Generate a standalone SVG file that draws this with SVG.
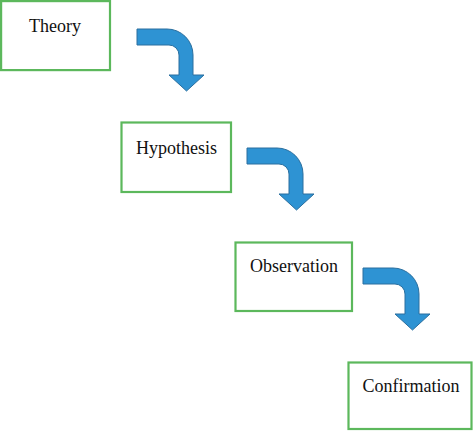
<svg xmlns="http://www.w3.org/2000/svg" width="474" height="432" viewBox="0 0 474 432">
<style>
.box{fill:#ffffff;stroke:#5cb85c;stroke-width:2.2}
.lbl{font-family:"Liberation Serif","Times New Roman",serif;font-size:18px;fill:#111;text-anchor:middle}
.arr{fill:#2e93d3;stroke:#2a6f9f;stroke-width:1}
</style>
<defs>
<path id="bend" d="M0,0 H30 A26 26 0 0 1 56,26 V46 H67 L49.5,62 L32,46 H42 V26 A10 10 0 0 0 32,16 H0 Z"/>
</defs>
<rect width="474" height="432" fill="#ffffff"/>
<g id="connectors">
<use href="#bend" class="arr" transform="translate(137,29)"/>
<use href="#bend" class="arr" transform="translate(247,148)"/>
<use href="#bend" class="arr" transform="translate(363,268)"/>
</g>
<g id="theory">
<rect class="box" x="1.1" y="1.1" width="108.9" height="69"/>
<text class="lbl" x="55" y="32">Theory</text>
</g>
<g id="hypothesis">
<rect class="box" x="121.5" y="122.5" width="109.5" height="69.5"/>
<text class="lbl" x="176.5" y="154">Hypothesis</text>
</g>
<g id="observation">
<rect class="box" x="235.5" y="242.5" width="116.5" height="68.5"/>
<text class="lbl" x="294" y="272">Observation</text>
</g>
<g id="confirmation">
<rect class="box" x="348.5" y="362.5" width="123" height="66.5"/>
<text class="lbl" x="411" y="392">Confirmation</text>
</g>
</svg>
